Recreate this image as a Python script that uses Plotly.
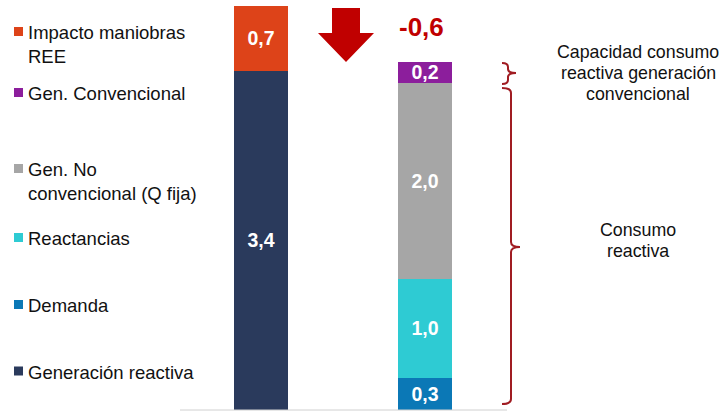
import plotly.graph_objects as go

W, H = 727, 416

# ---- data ----
x_positions = [0, 1]
series_names = ["Generación reactiva", "Impacto maniobras REE", "Demanda",
                "Reactancias", "Gen. No convencional (Q fija)", "Gen. Convencional"]
series_values = {
    "Generación reactiva": [3.41, None],
    "Impacto maniobras REE": [0.65, None],
    "Demanda": [None, 0.32],
    "Reactancias": [None, 1.00],
    "Gen. No convencional (Q fija)": [None, 1.97],
    "Gen. Convencional": [None, 0.21],
}
series_colors = {
    "Generación reactiva": "#2A3A5C",
    "Impacto maniobras REE": "#DD4319",
    "Demanda": "#0B78B6",
    "Reactancias": "#2ECBD3",
    "Gen. No convencional (Q fija)": "#A6A6A6",
    "Gen. Convencional": "#8C1E9C",
}
# legend entries (top to bottom) with line breaks as drawn
legend_labels = [
    ("Impacto maniobras REE", ["Impacto maniobras", "REE"], 31.5),
    ("Gen. Convencional", ["Gen. Convencional"], 92.5),
    ("Gen. No convencional (Q fija)", ["Gen. No", "convencional (Q fija)"], 168.5),
    ("Reactancias", ["Reactancias"], 237.5),
    ("Demanda", ["Demanda"], 304.5),
    ("Generación reactiva", ["Generación reactiva"], 371),
]
right_labels = [
    (["Capacidad consumo", "reactiva generación", "convencional"], 52),
    (["Consumo", "reactiva"], 230),
]

FONT = "Liberation Sans, Arial, sans-serif"


def fmt(v):
    return f"{v:.1f}".replace(".", ",")


def fx(x):
    return x / W


def fy(y):
    return 1 - y / H


fig = go.Figure()
for name in series_names:
    vals = series_values[name]
    fig.add_trace(go.Bar(
        x=x_positions, y=vals, name=name,
        marker=dict(color=series_colors[name], line=dict(width=0)),
        width=0.329,
        text=[fmt(v) if v is not None else "" for v in vals],
        textposition="inside", insidetextanchor="middle",
        constraintext="none",
        textfont=dict(color="white", size=19.5, family=FONT, weight="bold"),
        hoverinfo="skip", showlegend=False,
    ))

# difference annotation
tot0 = sum(series_values[n][0] or 0 for n in series_names)
tot1 = sum(series_values[n][1] or 0 for n in series_names)
diff = tot1 - tot0
annotations = [dict(
    x=0.98, xref="x", y=fy(27), yref="paper", text=f"<b>{fmt(diff)}</b>",
    showarrow=False, xanchor="center", yanchor="middle",
    font=dict(color="#C00000", size=26, family=FONT))]

shapes = []
# legend
for name, lines, cy in legend_labels:
    shapes.append(dict(type="rect", xref="paper", yref="paper",
                       x0=fx(14), x1=fx(23), y0=fy(cy - 4.5), y1=fy(cy + 4.5),
                       fillcolor=series_colors[name], line=dict(width=0)))
    for i, ln in enumerate(lines):
        annotations.append(dict(
            x=fx(25.5), y=fy(cy + 1 + 24 * i), xref="paper", yref="paper",
            text=ln, showarrow=False, xanchor="left", yanchor="middle",
            font=dict(color="#111111", size=18.5, family=FONT)))

# right labels
for lines, cy in right_labels:
    for i, ln in enumerate(lines):
        annotations.append(dict(
            x=fx(638), y=fy(cy + 21 * i), xref="paper", yref="paper",
            text=ln, showarrow=False, xanchor="center", yanchor="middle",
            font=dict(color="#111111", size=17.8, family=FONT)))

# arrow
arrow = "M {} {} L {} {} L {} {} L {} {} L {} {} L {} {} L {} {} Z".format(
    fx(332), fy(8), fx(360), fy(8), fx(360), fy(33), fx(374), fy(33),
    fx(346), fy(62), fx(318), fy(33), fx(332), fy(33))
shapes.append(dict(type="path", xref="paper", yref="paper", path=arrow,
                   fillcolor="#C00000", line=dict(width=0)))


def brace(xl, xv, xt, y0, ym, y1, r=5):
    return ("M {a} {b} Q {c} {b} {c} {d} L {c} {e} Q {c} {f} {g} {f} "
            "Q {c} {f} {c} {h} L {c} {i} Q {c} {j} {a} {j}").format(
        a=fx(xl), b=fy(y0), c=fx(xv), d=fy(y0 + r), e=fy(ym - r), f=fy(ym),
        g=fx(xt), h=fy(ym + r), i=fy(y1 - r), j=fy(y1))


shapes.append(dict(type="path", xref="paper", yref="paper",
                   path=brace(502, 508, 516, 63, 73, 84, r=4),
                   line=dict(color="#A01C22", width=2)))
shapes.append(dict(type="path", xref="paper", yref="paper",
                   path=brace(502, 511, 520, 88, 247, 404, r=5),
                   line=dict(color="#A01C22", width=2)))

# baseline
shapes.append(dict(type="line", xref="paper", yref="paper",
                   x0=fx(180), x1=fx(507), y0=fy(410), y1=fy(410),
                   line=dict(color="#D0D0D0", width=1)))

ppu = 99.5
x0px, dxpx = 261, 164
fig.update_layout(
    width=W, height=H, margin=dict(l=0, r=0, t=0, b=0),
    paper_bgcolor="white", plot_bgcolor="white",
    barmode="stack",
    xaxis=dict(visible=False, range=[-x0px / dxpx, (W - x0px) / dxpx], fixedrange=True),
    yaxis=dict(visible=False, range=[-(H - 410) / ppu, 410 / ppu], fixedrange=True),
    annotations=annotations, shapes=shapes,
    showlegend=False,
)
fig.write_html("out.html")
